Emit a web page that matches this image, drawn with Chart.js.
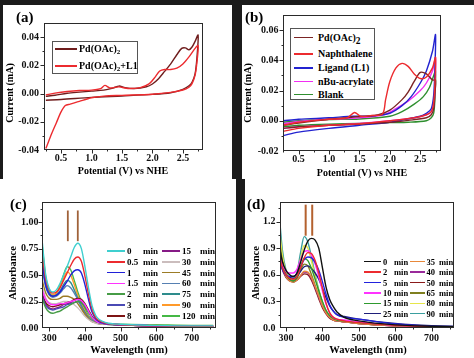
<!DOCTYPE html>
<html><head><meta charset="utf-8">
<script src="https://cdn.jsdelivr.net/npm/chart.js@4.4.0/dist/chart.umd.min.js"></script>
<style>
body{margin:0;background:#fff}
#wrap{position:relative;width:474px;height:358px;overflow:hidden;background:#fff;font-family:"Liberation Serif","Times New Roman",serif;font-weight:bold;color:#000}
canvas{position:absolute}
.t{position:absolute;white-space:nowrap;line-height:1;transform:translateY(-50%)}
.tc{position:absolute;white-space:nowrap;line-height:1;transform:translate(-50%,-50%)}
.tv{position:absolute;white-space:nowrap;line-height:1;transform:translate(-50%,-50%) rotate(-90deg)}
.sw{position:absolute;height:1.6px}
.bar{position:absolute;background:#1b1b1b;z-index:5}
.box{position:absolute;border:1px solid #555;background:#fff;box-sizing:border-box}
sub{font-size:70%;vertical-align:-0.3em;line-height:0}
.big sub{font-size:95%;vertical-align:-0.35em}
</style></head>
<body><div id="wrap">
<canvas id="ca" width="232" height="179" style="left:0;top:0"></canvas>
<canvas id="cb" width="234" height="179" style="left:240px;top:0"></canvas>
<canvas id="cc" width="236" height="179" style="left:0;top:179px"></canvas>
<canvas id="cd" width="230" height="179" style="left:244px;top:179px"></canvas>
<div class="bar" style="left:0;top:0;width:474px;height:5px"></div>
<div class="bar" style="left:0;top:0;width:3px;height:179px"></div>
<div class="bar" style="left:232px;top:0;width:10px;height:179px"></div>
<div class="bar" style="left:236px;top:179px;width:9px;height:179px"></div>
</div>
<script>
// ---------- Panel (a) ----------
const aNames = ['Pd(OAc)2', 'Pd(OAc)2+L1'];
const aColors = ['#6f1d1d', '#ec2b2f'];
const aPdX = [0.25,0.4,0.6,0.8,1.0,1.2,1.35,1.45,1.55,1.7,1.9,2.0,2.1,2.2,2.3,2.4,2.48,2.54,2.6,2.65,2.7,2.75, 2.73,2.7,2.65,2.6,2.5,2.3,2.0,1.5,1.0,0.5,0.25];
const aPdY = [-0.002,-0.0012,0.0002,0.001,0.0017,0.0024,0.0038,0.0053,0.0042,0.0036,0.0048,0.0068,0.0105,0.0157,0.021,0.0275,0.032,0.0324,0.031,0.033,0.037,0.0415, 0.025,0.014,0.008,0.0055,0.003,0.0006,-0.0006,-0.0017,-0.0027,-0.0042,-0.0047];
const aL1X = [0.25,0.4,0.6,0.8,1.0,1.15,1.22,1.3,1.45,1.6,1.8,1.95,2.05,2.12,2.2,2.3,2.4,2.5,2.6,2.7,2.75, 2.73,2.7,2.65,2.6,2.5,2.3,2.0,1.5,1.2,1.0,0.8,0.65,0.57,0.5,0.42,0.35,0.25];
const aL1Y = [-0.001,0.0003,0.0015,0.0022,0.0024,0.0035,0.0058,0.004,0.0047,0.0036,0.0042,0.007,0.012,0.016,0.017,0.017,0.018,0.021,0.026,0.032,0.034, 0.022,0.013,0.007,0.0045,0.0025,0.0008,-0.0005,-0.0013,-0.0018,-0.003,-0.0055,-0.0075,-0.0085,-0.013,-0.021,-0.028,-0.039];
const aXTicks = [0.5,1.0,1.5,2.0,2.5], aXLabels = ['0.5','1.0','1.5','2.0','2.5'], aXMinor = [0.25,0.75,1.25,1.75,2.25,2.75];
const aYTicks = [-0.04,-0.02,0,0.02,0.04], aYLabels = ['-0.04','-0.02','0.00','0.02','0.04'], aYMinor = [-0.03,-0.01,0.01,0.03];

// ---------- Panel (b) ----------
const bNames = ['Pd(OAc)2','Naphthalene','Ligand (L1)','nBu-acrylate','Blank'];
const bColors = ['#7b2424','#ec2b2f','#2323d0','#f22ef2','#2f8f2f'];
const bPdX = [0.25,0.5,1.0,1.4,1.8,2.0,2.2,2.3,2.4,2.5,2.6,2.7,2.75, 2.74,2.72,2.68,2.6,2.3,2.0,1.5,1.0,0.5,0.25];
const bPdY = [-0.003,-0.0015,0.001,0.0025,0.0038,0.007,0.014,0.019,0.026,0.032,0.031,0.027,0.027, 0.018,0.008,0.004,0.002,0.0003,-0.001,-0.0022,-0.003,-0.004,-0.005];
const bNaphX = [0.25,0.5,1.0,1.3,1.42,1.52,1.7,1.88,1.93,2.0,2.1,2.2,2.3,2.4,2.5,2.6,2.7,2.75, 2.74,2.72,2.68,2.6,2.4,2.0,1.5,1.0,0.5,0.25];
const bNaphY = [-0.003,-0.001,0.001,0.002,0.0055,0.003,0.0035,0.0045,0.014,0.026,0.035,0.038,0.036,0.031,0.028,0.029,0.035,0.042, 0.025,0.012,0.006,0.004,0.002,0.0,-0.002,-0.003,-0.005,-0.007];
const bLigX = [0.25,0.5,1.0,1.4,1.7,2.0,2.2,2.35,2.5,2.6,2.7,2.75, 2.74,2.72,2.68,2.6,2.5,2.2,2.0,1.5,1.0,0.5,0.25];
const bLigY = [0.0,0.001,0.002,0.003,0.0032,0.005,0.01,0.016,0.025,0.033,0.046,0.057, 0.035,0.017,0.008,0.005,0.003,0.0005,-0.001,-0.003,-0.005,-0.0075,-0.0098];
const bAcrX = [0.25,0.5,1.0,1.5,1.9,2.1,2.3,2.5,2.6,2.7,2.75, 2.74,2.72,2.68,2.6,2.4,2.0,1.5,1.0,0.5,0.25];
const bAcrY = [-0.002,-0.0005,0.001,0.002,0.004,0.008,0.013,0.02,0.025,0.033,0.042, 0.02,0.01,0.006,0.004,0.002,0.0,-0.0018,-0.003,-0.004,-0.005];
const bBlankX = [0.25,0.5,1.0,1.5,2.0,2.2,2.4,2.55,2.65,2.72,2.75, 2.74,2.72,2.68,2.6,2.3,2.0,1.5,1.0,0.5,0.25];
const bBlankY = [-0.001,0.0,0.0008,0.0012,0.003,0.006,0.011,0.016,0.022,0.03,0.033, 0.015,0.005,0.002,0.0,-0.001,-0.0012,-0.0018,-0.0022,-0.003,-0.004];
const bXTicks = [0.5,1.0,1.5,2.0,2.5], bXLabels = ['0.5','1.0','1.5','2.0','2.5'], bXMinor = [0.25,0.75,1.25,1.75,2.25,2.75];
const bYTicks = [-0.02,0,0.02,0.04,0.06], bYLabels = ['-0.02','0.00','0.02','0.04','0.06'], bYMinor = [-0.01,0.01,0.03,0.05];

// ---------- Panels (c), (d): UV-vis ----------
const wavelengths = [280,290,300,310,320,330,340,350,360,370,380,390,400,410,420,430,440,460,500,600,700,760];
const cTimes = ['0','0.5','1','1.5','2','3','8','15','30','45','60','75','90','120'];
const cColors = ['#3fcfcf','#ec2b2f','#2020d8','#ff33ff','#469c46','#4a4ab4','#7d1414','#861a86','#cbbdbd','#9c7c26','#5680b2','#2e8c8c','#ff9a2a','#45b845'];
const c0   = [0.82,0.50,0.37,0.34,0.36,0.42,0.50,0.58,0.67,0.76,0.80,0.75,0.58,0.38,0.21,0.12,0.08,0.05,0.035,0.025,0.02,0.02];
const c0_5 = [0.72,0.46,0.36,0.33,0.34,0.38,0.45,0.52,0.59,0.65,0.67,0.63,0.49,0.32,0.18,0.10,0.07,0.045,0.03,0.02,0.015,0.015];
const c1   = [0.62,0.40,0.32,0.30,0.31,0.34,0.39,0.44,0.50,0.54,0.55,0.52,0.41,0.27,0.15,0.09,0.06,0.04,0.03,0.02,0.015,0.015];
const c1_5 = [0.36,0.27,0.23,0.22,0.22,0.23,0.23,0.24,0.25,0.26,0.27,0.26,0.22,0.16,0.10,0.07,0.05,0.04,0.03,0.02,0.015,0.015];
const c2   = [0.28,0.19,0.15,0.14,0.15,0.16,0.18,0.20,0.22,0.24,0.25,0.24,0.20,0.15,0.10,0.07,0.05,0.04,0.03,0.02,0.015,0.015];
const c3   = [0.30,0.21,0.18,0.17,0.18,0.19,0.20,0.22,0.23,0.24,0.25,0.24,0.20,0.15,0.10,0.07,0.05,0.04,0.03,0.02,0.015,0.015];
const c8   = [0.30,0.24,0.21,0.20,0.21,0.22,0.23,0.24,0.25,0.27,0.28,0.27,0.23,0.17,0.11,0.07,0.05,0.04,0.03,0.02,0.015,0.015];
const c15  = [0.33,0.23,0.19,0.18,0.19,0.20,0.22,0.23,0.24,0.26,0.27,0.26,0.22,0.16,0.10,0.07,0.05,0.04,0.03,0.02,0.015,0.015];
const c30  = [0.40,0.28,0.24,0.23,0.23,0.24,0.25,0.25,0.24,0.22,0.19,0.15,0.11,0.08,0.06,0.045,0.04,0.035,0.03,0.02,0.015,0.015];
const c45  = [0.45,0.33,0.28,0.27,0.27,0.28,0.30,0.30,0.29,0.27,0.23,0.18,0.13,0.09,0.06,0.05,0.04,0.035,0.03,0.02,0.015,0.015];
const c60  = [0.55,0.39,0.31,0.29,0.30,0.33,0.37,0.40,0.38,0.33,0.27,0.20,0.14,0.10,0.07,0.05,0.04,0.035,0.03,0.02,0.015,0.015];
const c75  = [0.62,0.42,0.33,0.30,0.31,0.35,0.41,0.45,0.43,0.36,0.28,0.21,0.15,0.10,0.07,0.05,0.045,0.035,0.03,0.02,0.015,0.015];
const c90  = [0.70,0.45,0.34,0.31,0.33,0.39,0.47,0.53,0.50,0.41,0.31,0.23,0.16,0.11,0.07,0.055,0.045,0.04,0.03,0.025,0.02,0.02];
const c120 = [0.78,0.48,0.35,0.31,0.33,0.40,0.50,0.58,0.55,0.45,0.34,0.25,0.18,0.12,0.08,0.06,0.05,0.04,0.035,0.03,0.025,0.025];
const cSeries = [c0,c0_5,c1,c1_5,c2,c3,c8,c15,c30,c45,c60,c75,c90,c120];
const cMarkX = [352, 380], cMarkY = [0.82, 1.11];
const cXTicks = [300,400,500,600,700], cXLabels = ['300','400','500','600','700'], cXMinor = [350,450,550,650,750];
const cYTicks = [0,0.25,0.5,0.75,1.0], cYLabels = ['0.00','0.25','0.50','0.75','1.00'], cYMinor = [0.125,0.375,0.625,0.875,1.125];

const dTimes = ['0','2','5','10','15','25','35','40','50','65','80','90'];
const dColors = ['#111111','#ec2b2f','#2222dd','#ff33ff','#2e9a2e','#1f1f7a','#e8883a','#9a2a9a','#8b1a1a','#7f7f1f','#e6e64a','#3a9f9f'];
const d0  = [0.95,0.75,0.65,0.60,0.58,0.62,0.74,0.88,0.98,1.01,0.99,0.90,0.68,0.46,0.32,0.24,0.18,0.12,0.08,0.035,0.02,0.015];
const d2  = [0.85,0.68,0.60,0.56,0.55,0.58,0.68,0.79,0.85,0.84,0.76,0.62,0.45,0.28,0.17,0.12,0.10,0.08,0.06,0.03,0.015,0.01];
const d5  = [0.82,0.66,0.60,0.58,0.58,0.61,0.69,0.77,0.80,0.79,0.74,0.65,0.52,0.38,0.26,0.19,0.15,0.12,0.10,0.045,0.02,0.015];
const d10 = [0.90,0.72,0.64,0.62,0.62,0.66,0.77,0.86,0.87,0.82,0.72,0.58,0.42,0.27,0.17,0.12,0.10,0.09,0.07,0.03,0.015,0.01];
const d15 = [1.00,0.72,0.60,0.55,0.53,0.57,0.68,0.78,0.76,0.67,0.55,0.42,0.30,0.20,0.14,0.11,0.09,0.08,0.06,0.03,0.015,0.01];
const d25 = [0.85,0.68,0.60,0.57,0.56,0.58,0.64,0.69,0.70,0.67,0.62,0.55,0.45,0.34,0.25,0.19,0.15,0.13,0.10,0.05,0.025,0.02];
const d35 = [0.95,0.70,0.58,0.53,0.52,0.54,0.59,0.64,0.63,0.57,0.47,0.36,0.25,0.17,0.12,0.09,0.08,0.07,0.05,0.025,0.015,0.01];
const d40 = [0.90,0.68,0.58,0.54,0.53,0.55,0.59,0.63,0.62,0.56,0.46,0.35,0.25,0.17,0.12,0.09,0.08,0.07,0.05,0.025,0.015,0.01];
const d50 = [0.88,0.66,0.57,0.53,0.52,0.54,0.58,0.61,0.60,0.54,0.44,0.33,0.23,0.16,0.11,0.09,0.08,0.07,0.05,0.025,0.015,0.01];
const d65 = [1.05,0.75,0.60,0.54,0.52,0.56,0.65,0.72,0.70,0.60,0.48,0.36,0.25,0.17,0.12,0.09,0.08,0.07,0.05,0.025,0.015,0.01];
const d80 = [1.20,0.82,0.63,0.55,0.53,0.60,0.78,0.93,0.90,0.75,0.58,0.42,0.29,0.19,0.13,0.10,0.09,0.08,0.06,0.03,0.015,0.01];
const d90 = [1.35,0.88,0.65,0.55,0.53,0.62,0.85,1.03,0.97,0.80,0.60,0.43,0.29,0.19,0.13,0.10,0.09,0.08,0.06,0.03,0.015,0.01];
const dSeries = [d0,d2,d5,d10,d15,d25,d35,d40,d50,d65,d80,d90];
const dMarkX = [354, 372], dMarkY = [1.04, 1.39];
const dXTicks = [300,400,500,600,700], dXLabels = ['300','400','500','600','700'], dXMinor = [350,450,550,650,750];
const dYTicks = [0,0.3,0.6,0.9,1.2], dYLabels = ['0.0','0.3','0.6','0.9','1.2'], dYMinor = [0.15,0.45,0.75,1.05,1.35];

// ---------- helpers ----------
const FONT = '"Liberation Serif","Times New Roman",serif';
function pts(xs, ys){ return xs.map((x,i)=>({x:x, y:ys[i]})); }
function lineDs(label, data, color, extra){
  return Object.assign({label:label, data:data, borderColor:color, backgroundColor:color, borderWidth:1.4,
    pointRadius:0, pointHoverRadius:0, showLine:true, fill:false}, extra||{});
}
function scaleCfg(min, max, ticks, labels, pad, size){
  return {
    type:'linear', min:min, max:max,
    grid:{display:false, drawTicks:false}, border:{display:false},
    afterBuildTicks: s => { s.ticks = ticks.map(v => ({value:v})); },
    afterFit: s => { if (s.isHorizontal()) s.height = size; else s.width = size; },
    ticks:{autoSkip:false, maxRotation:0, minRotation:0, padding:pad, color:'#111',
      font:{family:FONT, weight:'bold', size:10}, callback:(v,i) => labels[i]}
  };
}
const frameTicks = {
  id:'frameTicks',
  afterDatasetsDraw(chart, args, o){
    const {ctx, chartArea:a} = chart; const x = chart.scales.x, y = chart.scales.y;
    const L = Math.round(a.left)+0.5, R = Math.round(a.right)-0.5, T = Math.round(a.top)+0.5, B = Math.round(a.bottom)-0.5;
    ctx.save(); ctx.strokeStyle = '#2a2a2a'; ctx.lineWidth = 1;
    ctx.strokeRect(L, T, R-L, B-T);
    ctx.beginPath();
    const xt = (v,len) => { const p = Math.round(x.getPixelForValue(v))+0.5; if (p < L-0.1 || p > R+0.1) return; ctx.moveTo(p,B); ctx.lineTo(p,B+len); };
    const yt = (v,len) => { const p = Math.round(y.getPixelForValue(v))+0.5; if (p < T-0.1 || p > B+0.1) return; ctx.moveTo(L,p); ctx.lineTo(L-len,p); };
    o.xMajor.forEach(v => xt(v,4)); o.xMinor.forEach(v => xt(v,2));
    o.yMajor.forEach(v => yt(v,4)); o.yMinor.forEach(v => yt(v,2));
    ctx.stroke(); ctx.restore();
  }
};
function build(id, datasets, xs, ys, pad, tension, mono){
  return new Chart(document.getElementById(id), {
    type:'scatter',
    data:{datasets:datasets},
    options:{
      responsive:false, animation:false, events:[], devicePixelRatio:1,
      layout:{padding:{left:0, top:pad.top, right:pad.right, bottom:0}},
      elements:{line:{tension:tension, cubicInterpolationMode: mono ? 'monotone' : 'default'}},
      plugins:{legend:{display:false}, tooltip:{enabled:false},
        frameTicks:{xMajor:xs.ticks, xMinor:xs.minor, yMajor:ys.ticks, yMinor:ys.minor}},
      scales:{
        x: scaleCfg(xs.min, xs.max, xs.ticks, xs.labels, xs.pad, xs.size),
        y: scaleCfg(ys.min, ys.max, ys.ticks, ys.labels, ys.pad, ys.size)
      }
    },
    plugins:[frameTicks]
  });
}

// (a)
build('ca', [
  lineDs(aNames[1], pts(aL1X, aL1Y), aColors[1]),
  lineDs(aNames[0], pts(aPdX, aPdY), aColors[0])
], {min:0.22, max:2.83, ticks:aXTicks, labels:aXLabels, minor:aXMinor, pad:2.5, size:29},
   {min:-0.04, max:0.05, ticks:aYTicks, labels:aYLabels, minor:aYMinor, pad:5, size:44},
   {top:23, right:29}, 0.3, false);

// (b)
build('cb', [
  lineDs(bNames[1], pts(bNaphX, bNaphY), bColors[1]),
  lineDs(bNames[0], pts(bPdX, bPdY), bColors[0]),
  lineDs(bNames[2], pts(bLigX, bLigY), bColors[2]),
  lineDs(bNames[3], pts(bAcrX, bAcrY), bColors[3]),
  lineDs(bNames[4], pts(bBlankX, bBlankY), bColors[4])
], {min:0.245, max:2.84, ticks:bXTicks, labels:bXLabels, minor:bXMinor, pad:2, size:28},
   {min:-0.02, max:0.07, ticks:bYTicks, labels:bYLabels, minor:bYMinor, pad:4.5, size:43},
   {top:15, right:33}, 0.3, false);

// (c)
const cDs = [lineDs('mark1', pts([cMarkX[0],cMarkX[0]], cMarkY), '#a0623a', {borderWidth:1.8, tension:0}),
             lineDs('mark2', pts([cMarkX[1],cMarkX[1]], cMarkY), '#a0623a', {borderWidth:1.8, tension:0})];
cSeries.forEach((s,i) => cDs.push(lineDs(cTimes[i]+' min', pts(wavelengths, s), cColors[i], {borderWidth:1.4})));
build('cc', cDs,
   {min:279.5, max:768, ticks:cXTicks, labels:cXLabels, minor:cXMinor, pad:4, size:30},
   {min:0, max:1.19, ticks:cYTicks, labels:cYLabels, minor:cYMinor, pad:3.5, size:42},
   {top:23, right:20}, 0.4, true);

// (d)
const dDs = [lineDs('mark1', pts([dMarkX[0],dMarkX[0]], dMarkY), '#b4612e', {borderWidth:2, tension:0}),
             lineDs('mark2', pts([dMarkX[1],dMarkX[1]], dMarkY), '#b4612e', {borderWidth:2, tension:0})];
dSeries.forEach((s,i) => dDs.push(lineDs(dTimes[i]+' min', pts(wavelengths, s), dColors[i], {borderWidth:1.4})));
build('cd', dDs,
   {min:283.5, max:761.5, ticks:dXTicks, labels:dXLabels, minor:dXMinor, pad:4, size:30},
   {min:0, max:1.42, ticks:dYTicks, labels:dYLabels, minor:dYMinor, pad:4.5, size:36},
   {top:23, right:20}, 0.4, true);

// ---------- HTML text: panel letters, axis titles, legends ----------
const wrap = document.getElementById('wrap');
function el(cls, x, y, html, size, extra){
  const d = document.createElement('div'); d.className = cls;
  d.style.left = x+'px'; d.style.top = y+'px'; if (size) d.style.fontSize = size+'px';
  d.innerHTML = html; if (extra) Object.assign(d.style, extra); wrap.appendChild(d); return d;
}
function sw(x, y, w, color){ el('sw', x, y-0.8, '', 0, {width:w+'px', background:color}); }
function subName(n){ return n.replace(/\)2/, ')<sub>2</sub>'); }

el('t', 16, 17, '(a)', 15); el('t', 245, 17, '(b)', 15);
el('t', 10, 204, '(c)', 15); el('t', 247, 204, '(d)', 15);

el('tv', 10, 93, 'Current (mA)', 10);
el('tc', 123, 171, 'Potential (V) vs NHE', 10);
el('tv', 247.5, 92.5, 'Current (mA)', 10);
el('tc', 362, 172.5, 'Potential (V) vs NHE', 10);
el('tv', 13, 273, 'Absorbance', 10.5);
el('tc', 129, 350, 'Wavelength (nm)', 10.5);
el('tv', 256, 273, 'Absorbance', 10.5);
el('tc', 368, 350, 'Wavelength (nm)', 10.5);

// legend (a)
el('box', 52, 41, '', 0, {width:'86px', height:'33px'});
[49, 66].forEach((cy,i) => { sw(55, cy, 22, aColors[i]); el('t', 79, cy, subName(aNames[i]), 10); });
// legend (b)
el('box', 290, 28, '', 0, {width:'85px', height:'72px'});
[37.5, 54, 68, 81.5, 94.5].forEach((cy,i) => { sw(294, cy, 19, bColors[i]); el('t big', 318, cy, subName(bNames[i]), 10); });
// legend (c)
cTimes.forEach((t,i) => {
  const col = i < 7 ? 0 : 1, row = i % 7, cy = 251 + row*10.8;
  const x0 = col ? 162 : 107, xn = col ? 182 : 127, xm = col ? 200 : 143;
  sw(x0, cy, 18, cColors[i]); el('t', xn, cy, t, 9); el('t', xm, cy, 'min', 9);
});
// legend (d)
dTimes.forEach((t,i) => {
  const col = i < 6 ? 0 : 1, row = i % 6, cy = 261.7 + row*10.4;
  const x0 = col ? 410 : 364, w = col ? 15 : 17, xn = col ? 426.5 : 383, xm = col ? 439 : 394;
  sw(x0, cy, w, dColors[i]); el('t', xn, cy, t, 8.5); el('t', xm, cy, 'min', 8.5);
});
</script>
</body></html>
